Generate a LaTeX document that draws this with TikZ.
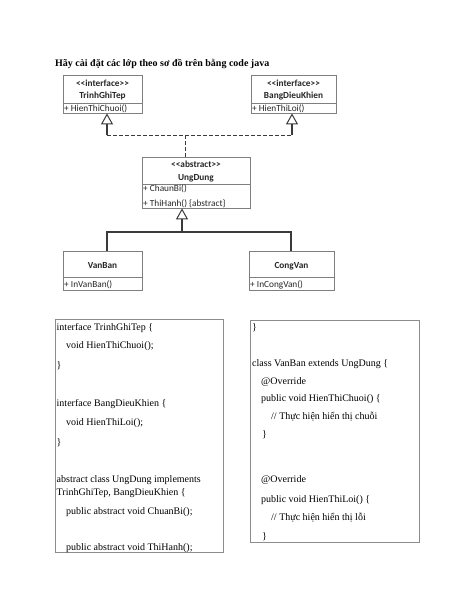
\documentclass[tikz,border=0pt]{standalone}
\usepackage{fontspec}
\setmainfont{Liberation Serif}
\newfontfamily\umlfont{Carlito}
\usetikzlibrary{arrows.meta}
\definecolor{umlgray}{HTML}{7F7F7F}
\definecolor{umltext}{HTML}{262626}
\definecolor{conncol}{HTML}{3A3A3A}
\definecolor{codegray}{HTML}{8C8C8C}
\newcommand\stereo[1]{<\kern0pt<#1>\kern0pt>}
\begin{document}
\begin{tikzpicture}[x=1pt,y=-1pt,
  umlbox/.style={draw=umlgray, line width=0.8pt, inner sep=0pt},
  umltxt/.style={font=\umlfont\fontsize{9.3}{11}\selectfont, text=umltext, inner sep=0pt, anchor=base},
  umlname/.style={umltxt, font=\umlfont\bfseries\fontsize{9.3}{11}\selectfont},
  umlattr/.style={umltxt, anchor=base west},
  divider/.style={draw=umlgray, line width=0.8pt},
  conn/.style={draw=conncol, line width=1.1pt},
  dashconn/.style={draw=conncol, line width=0.9pt, dash pattern=on 3.5pt off 2.5pt},
  inh/.style={-{Triangle[open, length=11pt, width=12pt, line width=1pt]}},
  codebox/.style={draw=codegray, line width=0.9pt, inner sep=0pt},
  codetxt/.style={font=\fontsize{10}{12}\selectfont, anchor=base west, inner sep=0pt},
  titletxt/.style={font=\bfseries\fontsize{10}{12}\selectfont, anchor=base west, inner sep=0pt}
]
\useasboundingbox (0,0) rectangle (474,613);

% title
\node[titletxt] (title) at (55,66.5) {Hãy cài đặt các lớp theo sơ đồ trên bằng code java};

% TrinhGhiTep
\node[umlbox, minimum width=79pt, minimum height=38pt] (trinh) at (102.5,94) {};
\node[umlname] (trinhS) at (102.5,86) {\stereo{interface}};
\node[umlname] (trinhN) at (102.5,98) {TrinhGhiTep};
\draw[divider] (trinh.west |- 0,103) -- (trinh.east |- 0,103);
\node[umlattr] (trinhA) at (64,111) {+ HienThiChuoi()};

% BangDieuKhien
\node[umlbox, minimum width=85pt, minimum height=38pt] (bang) at (293.5,94) {};
\node[umlname] (bangS) at (293.5,86) {\stereo{interface}};
\node[umlname] (bangN) at (293.5,98) {BangDieuKhien};
\draw[divider] (bang.west |- 0,103) -- (bang.east |- 0,103);
\node[umlattr] (bangA) at (252,111) {+ HienThiLoi()};

% UngDung
\node[umlbox, minimum width=108pt, minimum height=51pt] (ung) at (196,182.5) {};
\node[umlname] (ungS) at (196,167) {\stereo{abstract}};
\node[umlname] (ungN) at (196,180) {UngDung};
\draw[divider] (ung.west |- 0,184) -- (ung.east |- 0,184);
\node[umlattr] (ungA) at (143,191.5) {+ ChaunBi()};
\node[umlattr] (ungB) at (143,206) {+ ThiHanh() \{abstract\}};

% VanBan
\node[umlbox, minimum width=79pt, minimum height=39pt] (vanban) at (102.5,270.5) {};
\node[umlname] (vanbanN) at (102.5,268) {VanBan};
\draw[divider] (vanban.west |- 0,277) -- (vanban.east |- 0,277);
\node[umlattr] (vanbanA) at (64,287) {+ InVanBan()};

% CongVan
\node[umlbox, minimum width=85pt, minimum height=39pt] (congvan) at (291.5,270.5) {};
\node[umlname] (congvanN) at (291.5,268) {CongVan};
\draw[divider] (congvan.west |- 0,277) -- (congvan.east |- 0,277);
\node[umlattr] (congvanA) at (250,287) {+ InCongVan()};

% realization connectors
\coordinate (dj) at (185,135);
\coordinate (dl) at (107,135);
\coordinate (dr) at (292,135);
\draw[dashconn] (ung.north -| dj) -- (dj);
\draw[dashconn] (dl) -- (dr);
\draw[conn, inh] (dl) -- (trinh.south -| dl);
\draw[conn, inh] (dr) -- (bang.south -| dr);

% generalization connectors
\coordinate (gj) at (182,232);
\coordinate (gl) at (107,232);
\coordinate (gr) at (291,232);
\draw[conn] (vanban.north -| gl) -- (gl) -- (gr) -- (congvan.north -| gr);
\draw[conn, inh] (gj) -- (ung.south -| gj);

% code boxes
\node[codebox, minimum width=168pt, minimum height=233pt] (codeL) at (139,435.5) {};
\node[codebox, minimum width=169pt, minimum height=222pt] (codeR) at (334.5,431) {};

% left code
\node[codetxt] (l1) at (56.5,330.5) {interface TrinhGhiTep \{};
\node[codetxt] (l2) at (66,348.5) {void HienThiChuoi();};
\node[codetxt] (l3) at (56.5,368.5) {\}};
\node[codetxt] (l4) at (56.5,406.5) {interface BangDieuKhien \{};
\node[codetxt] (l5) at (66,425.5) {void HienThiLoi();};
\node[codetxt] (l6) at (56.5,445.5) {\}};
\node[codetxt] (l7) at (56.5,482.5) {abstract class UngDung implements};
\node[codetxt] (l8) at (56.5,495.5) {TrinhGhiTep, BangDieuKhien \{};
\node[codetxt] (l9) at (66,514.5) {public abstract void ChuanBi();};
\node[codetxt] (l10) at (66,550.5) {public abstract void ThiHanh();};

% right code
\node[codetxt] (r1) at (252,330.5) {\}};
\node[codetxt] (r2) at (252,366.5) {class VanBan extends UngDung \{};
\node[codetxt] (r3) at (261,384.5) {@Override};
\node[codetxt] (r4) at (261,401.5) {public void HienThiChuoi() \{};
\node[codetxt] (r5) at (271,419.5) {// Thực hiện hiển thị chuỗi};
\node[codetxt] (r6) at (262,437.5) {\}};
\node[codetxt] (r7) at (261,482.5) {@Override};
\node[codetxt] (r8) at (261,502.5) {public void HienThiLoi() \{};
\node[codetxt] (r9) at (271,520.5) {// Thực hiện hiển thị lỗi};
\node[codetxt] (r10) at (262,539.5) {\}};
\end{tikzpicture}
\end{document}
